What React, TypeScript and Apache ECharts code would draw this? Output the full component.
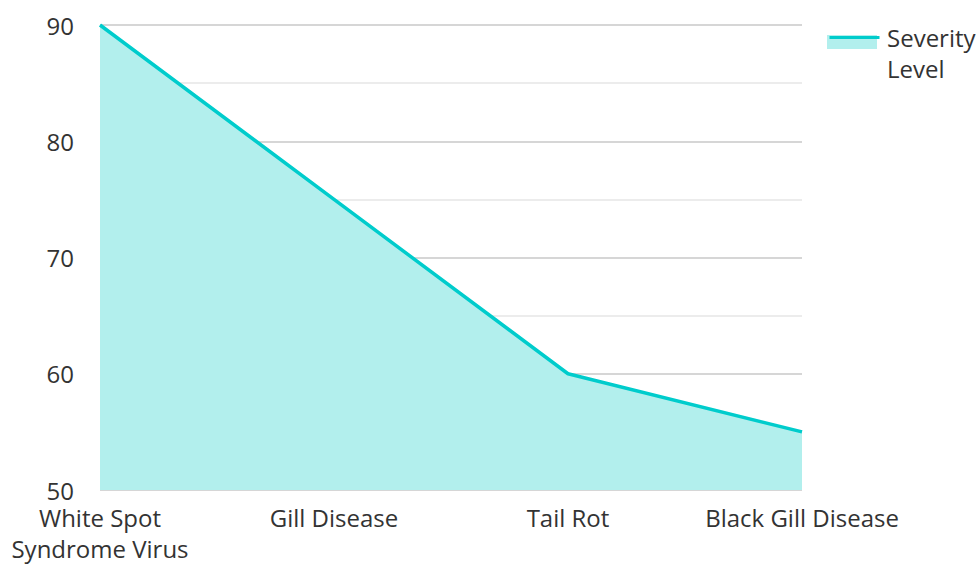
import React, { useEffect, useRef } from "react";
import * as echarts from "echarts";

const categories = ["White Spot\nSyndrome Virus", "Gill Disease", "Tail Rot", "Black Gill Disease"];
const severity = [90, 75, 60, 55];
const seriesName = "Severity Level";

export default function App() {
  const ref = useRef<HTMLDivElement>(null);
  useEffect(() => {
    document.body.style.margin = "0";
    const chart = echarts.init(ref.current!, null, { renderer: "svg" });
    const font = "'Open Sans', sans-serif";
    const textColor = "#333333";
    chart.setOption({
      animation: false,
      grid: { left: 100, right: 176, top: 25, bottom: 70, containLabel: false },
      legend: {
        data: [seriesName],
        left: 832,
        top: 22,
        padding: 0,
        icon: "rect",
        itemWidth: 50,
        itemHeight: 14,
        itemGap: 10,
        itemStyle: { color: "rgba(0,0,0,0)", borderWidth: 0 },
        formatter: () => "Severity\nLevel",
        textStyle: { fontFamily: font, fontSize: 24, color: textColor, lineHeight: 31 },
      },
      graphic: [
        { type: "rect", left: 827, top: 35, shape: { x: 0, y: 0, width: 50, height: 14 }, style: { fill: "#b2efed" } },
        { type: "line", left: 827, top: 35, shape: { x1: 0, y1: 1.5, x2: 50, y2: 1.5 }, style: { stroke: "#00cccc", lineWidth: 3 } },
      ],
      xAxis: {
        type: "category",
        data: categories,
        boundaryGap: false,
        axisLine: { show: false },
        axisTick: { show: false },
        axisLabel: { fontFamily: font, fontSize: 24, color: textColor, margin: 12, lineHeight: 31, interval: 0 },
        splitLine: { show: false },
      },
      yAxis: {
        type: "value",
        min: 50,
        max: 90,
        interval: 10,
        axisLine: { show: false },
        axisTick: { show: false },
        axisLabel: { fontFamily: font, fontSize: 24, color: textColor, margin: 26, lineHeight: 22 },
        splitLine: { show: true, lineStyle: { color: "#c8c8c8", width: 1.5 } },
        minorTick: { show: false, splitNumber: 2 },
        minorSplitLine: { show: true, lineStyle: { color: "#e6e6e6", width: 1.5 } },
      },
      series: [
        {
          name: seriesName,
          type: "line",
          data: severity,
          symbol: "none",
          lineStyle: { color: "#00cccc", width: 3.5 },
          itemStyle: { color: "#00cccc" },
          areaStyle: { color: "#b2efed", opacity: 1, origin: "start" },
        },
      ],
    });
    return () => chart.dispose();
  }, []);
  return <div ref={ref} style={{ width: 978, height: 564 }} />;
}
